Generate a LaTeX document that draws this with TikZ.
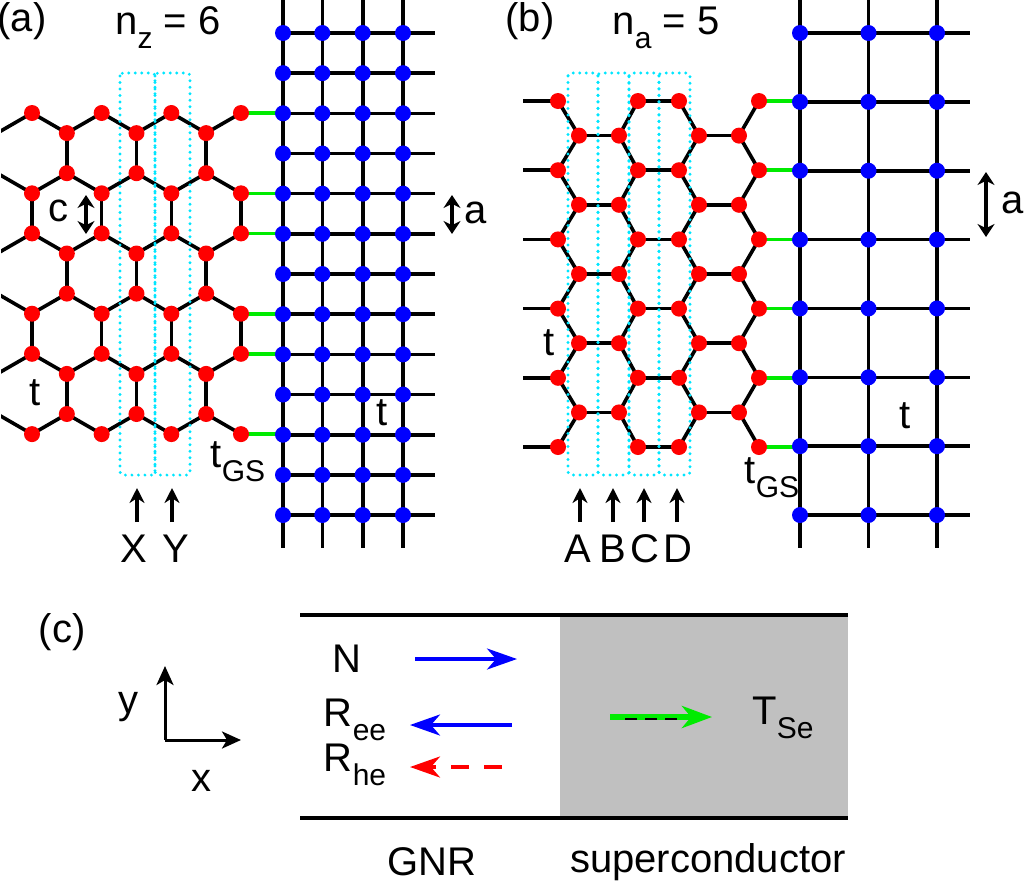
\documentclass[tikz,border=0pt]{standalone}
\usepackage{fontspec}
\setmainfont{Liberation Sans}
\usetikzlibrary{arrows.meta}
\definecolor{cyanb}{RGB}{0,230,255}
\definecolor{grn}{RGB}{0,235,0}
\definecolor{scgray}{RGB}{192,192,192}
\newcommand\sbs[1]{\raisebox{-0.35em}{\fontsize{30}{30}\selectfont #1}}
\begin{document}
\begin{tikzpicture}[x=1pt,y=-1pt,
  bond/.style={line width=3.6pt},
  gbond/.style={line width=3.6pt,grn},
  ratom/.style={fill=red},
  batom/.style={fill=blue},
  cbox/.style={cyanb,line width=3.2pt,line cap=round,dash pattern=on 0pt off 6.5pt,rounded corners=3pt},
  lbl/.style={font=\fontsize{40}{44}\selectfont,inner sep=0pt},
  uparr/.style={line width=3.5pt,-{Stealth[length=15pt,width=15pt]}},
  dbl/.style={line width=3.5pt,{Stealth[length=13pt,width=17pt]}-{Stealth[length=13pt,width=17pt]}},
  bigarr/.style={line width=3.5pt,-{Stealth[length=30pt,width=21pt,inset=9pt]}}]
\useasboundingbox (0,0) rectangle (1025,887);
% ---------- panel (a) ----------
\foreach \k in {0,...,5}{
  \pgfmathsetmacro\yg{113+60.2*\k+20.1*mod(6+\k,2)}
  \draw[gbond] (241,\yg)--(283,\yg);
}
\foreach \x in {283,322.3,362.7,403}{\draw[bond] (\x,0)--(\x,548);}
\foreach \j in {0,...,12}{\pgfmathsetmacro\yy{33+40.17*\j}\draw[bond] (283,\yy)--(435,\yy);}
\begin{scope}
\clip (1,0) rectangle (300,887);
\foreach \k in {0,...,5}{
  \foreach \i in {-1,...,5}{
    \pgfmathsetmacro\xa{32+34.83*\i}
    \pgfmathsetmacro\ya{113+60.2*\k+20.1*mod(\i+\k+2,2)}
    \pgfmathsetmacro\xb{32+34.83*(\i+1)}
    \pgfmathsetmacro\yb{113+60.2*\k+20.1*mod(\i+\k+3,2)}
    \draw[bond] (\xa,\ya)--(\xb,\yb);
  }
}
\end{scope}
\foreach \k in {0,...,4}{
  \foreach \i in {0,...,6}{
    \pgfmathtruncatemacro\s{mod(\i+\k,2)}
    \ifnum\s=1
      \pgfmathsetmacro\xa{32+34.83*\i}
      \pgfmathsetmacro\ya{113+60.2*\k+20.1}
      \pgfmathsetmacro\yb{113+60.2*(\k+1)}
      \draw[bond] (\xa,\ya)--(\xa,\yb);
    \fi
  }
}
\draw[cbox] (120,73) rectangle (155,475);
\draw[cbox] (155,73) rectangle (190,475);
\foreach \k in {0,...,5}{
  \foreach \i in {0,...,6}{
    \pgfmathsetmacro\xa{32+34.83*\i}
    \pgfmathsetmacro\ya{113+60.2*\k+20.1*mod(\i+\k+2,2)}
    \fill[ratom] (\xa,\ya) circle (8);
  }
}
\foreach \x in {283,322.3,362.7,403}{
  \foreach \j in {0,...,12}{\pgfmathsetmacro\yy{33+40.17*\j}\fill[batom] (\x,\yy) circle (8);}
}
\node[lbl] (la) at (22,21) {(a)};
\node[lbl] (nz) at (168,28) {n\sbs{z} = 6};
\node[lbl] (lc) at (58,211) {c};
\coordinate (c1) at (86,195); \coordinate (c2) at (86,234);
\draw[dbl] (c1)--(c2);
\node[lbl] (laa) at (476,213) {a};
\coordinate (a1) at (452,195); \coordinate (a2) at (452,234);
\draw[dbl] (a1)--(a2);
\node[lbl] (ta) at (35,393) {t};
\node[lbl] (tsa) at (382,413) {t};
\node[lbl] (tgsa) at (238,462) {t\sbs{GS}};
\coordinate (xa0) at (137,522); \coordinate (xa1) at (137,488);
\coordinate (ya0) at (172,522); \coordinate (ya1) at (172,488);
\draw[uparr] (xa0)--(xa1); \draw[uparr] (ya0)--(ya1);
\node[lbl] (lX) at (134,549) {X};
\node[lbl] (lY) at (176,549) {Y};
% ---------- panel (b) ----------
\foreach \r in {0,2,...,10}{\pgfmathsetmacro\yy{101+34.6*\r}\draw[gbond] (759,\yy)--(800,\yy);}
\foreach \x in {800,868.5,937}{\draw[bond] (\x,0)--(\x,548);}
\foreach \j in {0,...,7}{\pgfmathsetmacro\yy{33+68.86*\j}\draw[bond] (800,\yy)--(970,\yy);}
\foreach \r in {0,...,10}{
  \pgfmathsetmacro\yy{101+34.6*\r}
  \pgfmathtruncatemacro\e{mod(\r,2)}
  \ifnum\e=0
    \draw[bond] (523,\yy)--(558,\yy); \draw[bond] (638,\yy)--(679,\yy);
  \else
    \draw[bond] (579,\yy)--(619,\yy); \draw[bond] (699,\yy)--(739,\yy);
  \fi
}
\foreach \r in {0,...,9}{
  \pgfmathsetmacro\yy{101+34.6*\r}
  \pgfmathsetmacro\yn{101+34.6*(\r+1)}
  \pgfmathtruncatemacro\e{mod(\r,2)}
  \foreach \a/\b in {558/579,638/619,679/699,759/739}{
    \ifnum\e=0 \draw[bond] (\a,\yy)--(\b,\yn);
    \else \draw[bond] (\b,\yy)--(\a,\yn); \fi
  }
}
\foreach \xl/\xr in {568/598,598/629,629/659,659/690}{\draw[cbox] (\xl,73) rectangle (\xr,475);}
\foreach \r in {0,...,10}{
  \pgfmathsetmacro\yy{101+34.6*\r}
  \pgfmathtruncatemacro\e{mod(\r,2)}
  \ifnum\e=0
    \foreach \x in {558,638,679,759}{\fill[ratom] (\x,\yy) circle (8);}
  \else
    \foreach \x in {579,619,699,739}{\fill[ratom] (\x,\yy) circle (8);}
  \fi
}
\foreach \x in {800,868.5,937}{
  \foreach \j in {0,...,7}{\pgfmathsetmacro\yy{33+68.86*\j}\fill[batom] (\x,\yy) circle (8);}
}
\node[lbl] (lb) at (530,21) {(b)};
\node[lbl] (na) at (666,28) {n\sbs{a} = 5};
\node[lbl] (tb) at (549,343) {t};
\node[lbl] (tsb) at (905,416) {t};
\node[lbl] (tgsb) at (772,478) {t\sbs{GS}};
\node[lbl] (lab) at (1013,203) {a};
\coordinate (b1) at (986,172); \coordinate (b2) at (986,237);
\draw[dbl] (b1)--(b2);
\foreach \x/\t/\n in {580/578/A,613/613/B,644/645/C,677/678/D}{
  \coordinate (p\n) at (\x,522); \coordinate (q\n) at (\x,488);
  \draw[uparr] (p\n)--(q\n);
  \node[lbl] (l\n) at (\t,549) {\n};
}
% ---------- panel (c) ----------
\fill[scgray] (560,615) rectangle (848,818);
\coordinate (t0) at (300,615); \coordinate (t1) at (848,615);
\coordinate (u0) at (300,818); \coordinate (u1) at (848,818);
\draw[line width=4pt] (t0)--(t1);
\draw[line width=4pt] (u0)--(u1);
\node[lbl] (lcc) at (62,632) {(c)};
\coordinate (o) at (165,740); \coordinate (oy) at (165,666); \coordinate (ox) at (241,740);
\draw[line width=3pt,-{Stealth[length=19pt,width=17pt,inset=5pt]}] (o)--(oy);
\draw[line width=3pt,-{Stealth[length=19pt,width=17pt,inset=5pt]}] (o)--(ox);
\node[lbl] (ly) at (128,707) {y};
\node[lbl] (lx) at (201,781) {x};
\node[lbl] (lN) at (347,659) {N};
\coordinate (n0) at (415,659); \coordinate (n1) at (517,659);
\draw[bigarr,blue] (n0)--(n1);
\node[lbl] (lRee) at (355,720) {R\sbs{ee}};
\coordinate (r0) at (512,725); \coordinate (r1) at (410,725);
\draw[bigarr,blue] (r0)--(r1);
\node[lbl] (lRhe) at (355,765) {R\sbs{he}};
\coordinate (h0) at (502,767); \coordinate (h1) at (410,767);
\draw[bigarr,red,dash pattern=on 18pt off 15pt] (h0)--(h1);
\coordinate (g0) at (610,717); \coordinate (g1) at (712,717);
\draw[line width=6pt,grn,-{Stealth[length=30pt,width=22pt,inset=9pt]}] (g0)--(g1);
\coordinate (k0) at (625,719); \coordinate (k1) at (683,719);
\draw[line width=2pt,dash pattern=on 12pt off 8pt] (k0)--(k1);
\node[lbl] (lT) at (783,718) {T\sbs{Se}};
\node[lbl] (lG) at (432,862) {GNR};
\node[lbl] (lS) at (708,862) {superconductor};
\end{tikzpicture}
\end{document}
